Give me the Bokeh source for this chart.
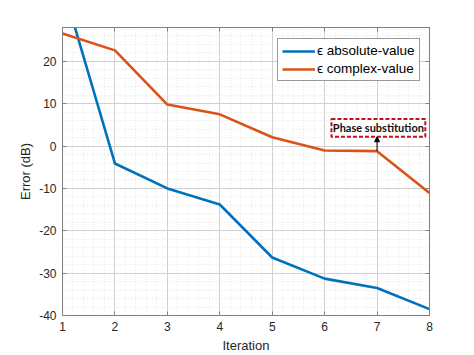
from bokeh.plotting import figure
from bokeh.models import (Range1d, LinearAxis, Legend, LegendItem,
                          Arrow, NormalHead, Label, FixedTicker, CustomJSTickFormatter)
from bokeh.embed import file_html
from bokeh.resources import INLINE

iterations = [1, 2, 3, 4, 5, 6, 7, 8]
abs_value = [38.0, -4.1, -10.0, -13.8, -26.3, -31.3, -33.5, -38.5]
complex_value = [26.6, 22.6, 9.8, 7.5, 2.1, -1.05, -1.2, -11.1]
x_ticks = [1, 2, 3, 4, 5, 6, 7, 8]
y_ticks = [-40, -30, -20, -10, 0, 10, 20]
labels = ["\u03f5 absolute-value", "\u03f5 complex-value"]
annot_text = "Phase substitution"
annot_x = 7
annot_box = dict(left=6.13, right=7.92, bottom=2.2, top=6.4)

FONT = "Liberation Sans"
TXT = "#262626"
AX = "#808080"

p = figure(width=474, height=355, output_backend="svg", toolbar_location=None,
           x_range=Range1d(1, 8), y_range=Range1d(-40, 28),
           min_border_left=62, min_border_right=45, min_border_top=27, min_border_bottom=39,
           background_fill_color="white", border_fill_color="white")
p.outline_line_color = AX
p.outline_line_width = 1

for ax in (p.xaxis[0], p.yaxis[0]):
    ax.major_tick_in = 4
    ax.major_tick_out = 0
    ax.minor_tick_in = 0
    ax.minor_tick_out = 0
    ax.axis_line_color = AX
    ax.major_tick_line_color = AX
    ax.major_label_text_font = FONT
    ax.major_label_text_font_size = "12px"
    ax.major_label_text_color = TXT
    ax.axis_label_text_font = FONT
    ax.axis_label_text_font_size = "13px"
    ax.axis_label_text_font_style = "normal"
    ax.axis_label_text_color = TXT

p.xaxis.ticker = FixedTicker(ticks=x_ticks, minor_ticks=[1 + 0.2 * i for i in range(36)])
p.yaxis.ticker = FixedTicker(ticks=y_ticks, minor_ticks=list(range(-40, 29, 2)))
p.xaxis.major_label_overrides = {t: str(t) for t in x_ticks}
p.yaxis.major_label_overrides = {t: str(t) for t in y_ticks}
p.xaxis.axis_label = "Iteration"
p.yaxis.axis_label = "Error (dB)"
p.xaxis.major_label_standoff = 6
p.yaxis.major_label_standoff = 6
p.xaxis.axis_label_standoff = 4
p.yaxis.axis_label_standoff = 3

blank = CustomJSTickFormatter(code="return '';")
top = LinearAxis(ticker=FixedTicker(ticks=x_ticks), formatter=blank,
                 major_tick_in=4, major_tick_out=0, minor_tick_in=0, minor_tick_out=0,
                 axis_line_color=AX, major_tick_line_color=AX, major_label_standoff=0)
right = LinearAxis(ticker=FixedTicker(ticks=y_ticks), formatter=blank,
                   major_tick_in=4, major_tick_out=0, minor_tick_in=0, minor_tick_out=0,
                   axis_line_color=AX, major_tick_line_color=AX, major_label_standoff=0)
p.add_layout(top, "above")
p.add_layout(right, "right")

for g in (p.xgrid[0], p.ygrid[0]):
    g.grid_line_color = "#d0d0d0"
    g.grid_line_width = 1
    g.minor_grid_line_color = "#e4e4e4"
    g.minor_grid_line_dash = "1 2"
    g.minor_grid_line_width = 1

r1 = p.line(iterations, abs_value, line_color="#0072BD", line_width=2.6)
r2 = p.line(iterations, complex_value, line_color="#D95319", line_width=2.6)

legend = Legend(items=[LegendItem(label=labels[0], renderers=[r1]),
                       LegendItem(label=labels[1], renderers=[r2])],
                location=(215, 234), label_text_font=FONT, label_text_font_size="13.5px",
                label_text_color="#000000", glyph_width=33, glyph_height=14,
                label_standoff=2, spacing=3, padding=4, margin=0,
                border_line_color="#333333", border_line_width=1,
                background_fill_color="white", background_fill_alpha=1,
                label_height=14)
p.add_layout(legend, "center")

p.quad(left=[annot_box["left"]], right=[annot_box["right"]],
       bottom=[annot_box["bottom"]], top=[annot_box["top"]],
       fill_color="white", fill_alpha=1, line_color="#c0101e",
       line_dash="4 2", line_width=2)
p.add_layout(Label(x=(annot_box["left"] + annot_box["right"]) / 2,
                   y=(annot_box["bottom"] + annot_box["top"]) / 2,
                   text=annot_text, text_align="center", text_baseline="middle",
                   text_font="Lato", text_font_size="11px", text_font_style="bold",
                   text_color="#111111"))
p.add_layout(Arrow(x_start=annot_x, y_start=complex_value[annot_x - 1],
                   x_end=annot_x, y_end=annot_box["bottom"],
                   line_color="black", line_width=1,
                   end=NormalHead(size=5, fill_color="black", line_color="black")))

open("out.html", "w").write(file_html(p, INLINE))
